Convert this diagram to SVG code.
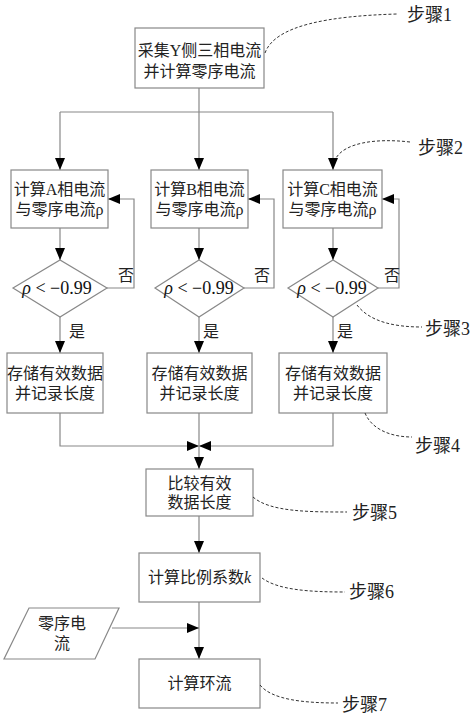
<svg xmlns="http://www.w3.org/2000/svg" width="474" height="718" viewBox="0 0 474 718">
<defs>
<marker id="ah" markerUnits="userSpaceOnUse" markerWidth="12" markerHeight="10" viewBox="0 0 12 10" refX="12" refY="5" orient="auto">
<path d="M0,0 L12,5 L0,10 Z" fill="#000"/>
</marker>
</defs>
<style>
.box{fill:#fff;stroke:#888;stroke-width:1.2}
.ln{fill:none;stroke:#888;stroke-width:1.2}
.ar{fill:none;stroke:#888;stroke-width:1.2;marker-end:url(#ah)}
.dash{fill:none;stroke:#333;stroke-width:1;stroke-dasharray:3,2}
.t{font-family:"Liberation Serif","Noto Sans CJK SC",serif;font-size:16px;fill:#222;text-anchor:middle;dominant-baseline:central}
.s{font-family:"Liberation Serif","Noto Sans CJK SC",serif;font-size:18px;fill:#222;text-anchor:start;dominant-baseline:central}
.m{font-family:"Liberation Serif",serif;font-size:18px;fill:#111;text-anchor:middle;dominant-baseline:central}
</style>
<rect width="474" height="718" fill="#fff"/>
<g id="connectors">
<line class="ln" x1="199" y1="88" x2="199" y2="112"/>
<line class="ln" x1="60" y1="112" x2="333" y2="112"/>
<line class="ar" x1="60" y1="112" x2="60" y2="170"/>
<line class="ar" x1="199" y1="112" x2="199" y2="170"/>
<line class="ar" x1="333" y1="112" x2="333" y2="170"/>
<line class="ar" x1="60" y1="228" x2="60" y2="260"/>
<line class="ar" x1="199" y1="228" x2="199" y2="260"/>
<line class="ar" x1="333" y1="228" x2="333" y2="260"/>
<polyline class="ar" points="107,288 134,288 134,199 108,199"/>
<polyline class="ar" points="244,288 274,288 274,199 248,199"/>
<polyline class="ar" points="378,288 399,288 399,199 382,199"/>
<line class="ar" x1="60" y1="317" x2="60" y2="353"/>
<line class="ar" x1="199" y1="317" x2="199" y2="353"/>
<line class="ar" x1="333" y1="317" x2="333" y2="353"/>
<polyline class="ar" points="60,413 60,446 199,446"/>
<polyline class="ar" points="333,413 333,446 199,446"/>
<line class="ln" x1="199" y1="413" x2="199" y2="446"/>
<line class="ar" x1="199" y1="446" x2="199" y2="469"/>
<line class="ar" x1="199" y1="516" x2="199" y2="553"/>
<line class="ar" x1="199" y1="602" x2="199" y2="659"/>
<line class="ar" x1="112" y1="628" x2="199" y2="628"/>
<text class="t" x="126" y="275">否</text>
<text class="t" x="262" y="275">否</text>
<text class="t" x="392" y="275">否</text>
<text class="t" x="77" y="331">是</text>
<text class="t" x="211" y="331">是</text>
<text class="t" x="345" y="331">是</text>
</g>
<g id="n1"><rect class="box" x="135" y="28" width="129" height="60"/>
<text class="t" x="199.5" y="50">采集Y侧三相电流</text><text class="t" x="199.5" y="71">并计算零序电流</text></g>
<g id="n2a"><rect class="box" x="11" y="170" width="97" height="58"/>
<text class="t" x="59.5" y="189">计算A相电流</text><text class="t" x="59.5" y="209">与零序电流ρ</text></g>
<g id="n2b"><rect class="box" x="151" y="170" width="97" height="58"/>
<text class="t" x="199.5" y="189">计算B相电流</text><text class="t" x="199.5" y="209">与零序电流ρ</text></g>
<g id="n2c"><rect class="box" x="283" y="170" width="99" height="58"/>
<text class="t" x="332.5" y="189">计算C相电流</text><text class="t" x="332.5" y="209">与零序电流ρ</text></g>
<g id="d1"><polygon class="box" points="13,288 60,260 107,288 60,317"/>
<text class="m" x="57" y="288"><tspan font-style="italic">ρ</tspan> &lt; −0.99</text></g>
<g id="d2"><polygon class="box" points="155,288 199,260 244,288 199,317"/>
<text class="m" x="199" y="288"><tspan font-style="italic">ρ</tspan> &lt; −0.99</text></g>
<g id="d3"><polygon class="box" points="288,288 333,260 378,288 333,317"/>
<text class="m" x="332" y="288"><tspan font-style="italic">ρ</tspan> &lt; −0.99</text></g>
<g id="n4a"><rect class="box" x="7" y="353" width="96" height="60"/>
<text class="t" x="55" y="373">存储有效数据</text><text class="t" x="55" y="393">并记录长度</text></g>
<g id="n4b"><rect class="box" x="147" y="353" width="105" height="60"/>
<text class="t" x="199.5" y="373">存储有效数据</text><text class="t" x="199.5" y="393">并记录长度</text></g>
<g id="n4c"><rect class="box" x="279" y="353" width="108" height="60"/>
<text class="t" x="333" y="373">存储有效数据</text><text class="t" x="333" y="393">并记录长度</text></g>
<g id="n5"><rect class="box" x="146" y="469" width="107" height="47"/>
<text class="t" x="199.5" y="483">比较有效</text><text class="t" x="199.5" y="502">数据长度</text></g>
<g id="n6"><rect class="box" x="139" y="553" width="121" height="49"/>
<text class="t" x="199.5" y="577">计算比例系数<tspan font-style="italic">k</tspan></text></g>
<g id="n7"><rect class="box" x="139" y="659" width="121" height="49"/>
<text class="t" x="199.5" y="683">计算环流</text></g>
<g id="in"><polygon class="box" points="29,608 119,608 95,659 4,659"/>
<text class="t" x="62" y="623">零序电</text><text class="t" x="62" y="643">流</text></g>
<g id="steps">
<path class="dash" d="M265,53 C275,25 330,16 397,14"/>
<text class="s" x="407" y="15">步骤1</text>
<path class="dash" d="M410,142 C375,138 345,143 336,158"/>
<text class="s" x="418" y="148">步骤2</text>
<path class="dash" d="M357,305 C370,322 395,327 422,327"/>
<text class="s" x="425" y="329">步骤3</text>
<path class="dash" d="M365,413 C372,430 392,437 412,437"/>
<text class="s" x="415" y="446">步骤4</text>
<path class="dash" d="M253,497 C270,512 310,512 347,512"/>
<text class="s" x="352" y="513">步骤5</text>
<path class="dash" d="M262,578 C278,590 310,592 345,592"/>
<text class="s" x="349" y="592">步骤6</text>
<path class="dash" d="M260,685 C272,700 305,703 338,703"/>
<text class="s" x="342" y="705">步骤7</text>
</g>
</svg>
